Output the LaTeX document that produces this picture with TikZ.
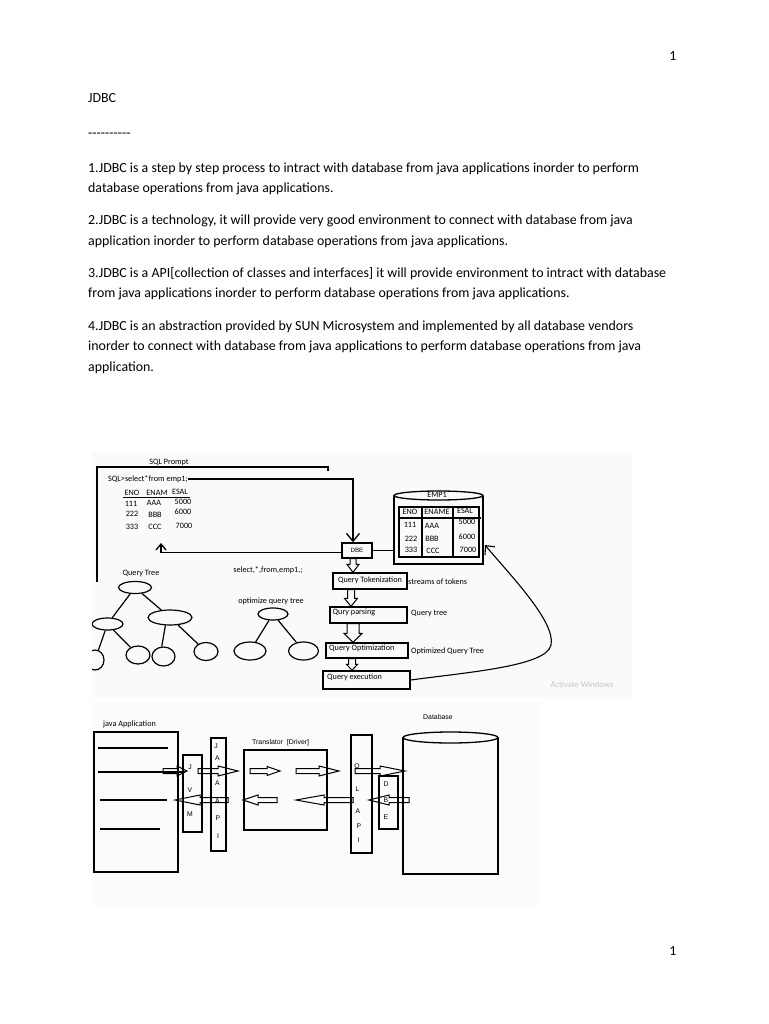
\documentclass[tikz,border=0pt]{standalone}
\usepackage{fontspec}
\setmainfont{Carlito}
\newfontfamily\arialf{Liberation Sans}
\usetikzlibrary{arrows.meta,calc,shapes.geometric}
\newcommand\bodyf{\fontsize{13.9}{16}\selectfont}
\newcommand\smf{\fontsize{8.2}{9.5}\selectfont}
\newcommand\tinyf{\arialf\fontsize{6.8}{7.5}\selectfont}
\newcommand\lblf{\arialf\fontsize{6.9}{8}\selectfont}
% horizontal hollow arrow: tail x, tip x, y, shaft half width, head half width, head length
\newcommand{\HArr}[6]{%
  \pgfmathsetmacro\hbx{ifthenelse(#2>#1,#2-#6,#2+#6)}%
  \draw[harrow] (#1,#3-#4) -- (\hbx,#3-#4) -- (\hbx,#3-#5) -- (#2,#3) -- (\hbx,#3+#5) -- (\hbx,#3+#4) -- (#1,#3+#4) -- cycle;}
% vertical hollow arrow between two named nodes: x, from node, to node, shaft hw, head hw, head length
\newcommand{\VArr}[6]{%
  \draw[harrow] let \p1=(#2.south), \p2=(#3.north) in
    (#1pt-#4pt,\y1) -- (#1pt-#4pt,\y2+#6pt) -- (#1pt-#5pt,\y2+#6pt) -- (#1pt,\y2)
    -- (#1pt+#5pt,\y2+#6pt) -- (#1pt+#4pt,\y2+#6pt) -- (#1pt+#4pt,\y1) -- cycle;}
\begin{document}
\begin{tikzpicture}[x=1pt,y=-1pt,
  every node/.style={inner sep=0pt},
  body/.style={anchor=base west,font=\bodyf},
  sm/.style={font=\smf},
  lt/.style={font=\tinyf},
  lb/.style={font=\lblf},
  ln/.style={line width=1.3pt},
  box/.style={draw,line width=1.3pt,minimum width=#1},
  harrow/.style={draw,line width=1pt,line join=miter},
  ell/.style={draw,ellipse,line width=1.2pt},
  barb/.style={-{Straight Barb[length=8pt,width=13pt]}}]
\useasboundingbox (0,0) rectangle (768,1024);
\fill[white] (0,0) rectangle (768,1024);

% ---------- text ----------
\node[font=\bodyf] (pg1) at (673,56) {1};
\node[body] (title) at (88,103) {JDBC};
\node[body] (dash) at (88,137.5) {{-}{-}{-}{-}{-}{-}{-}{-}{-}{-}};
\node[body] (p1a) at (88,172.5) {1.JDBC is a step by step process to intract with database from java applications inorder to perform};
\node[body] (p1b) at (88,193) {database operations from java applications.};
\node[body] (p2a) at (88,224.5) {2.JDBC is a technology, it will provide very good environment to connect with database from java};
\node[body] (p2b) at (88,245) {application inorder to perform database operations from java applications.};
\node[body] (p3a) at (88,277) {3.JDBC is a API[collection of classes and interfaces] it will provide environment to intract with database};
\node[body] (p3b) at (88,297.5) {from java applications inorder to perform database operations from java applications.};
\node[body] (p4a) at (88,330) {4.JDBC is an abstraction provided by SUN Microsystem and implemented by all database vendors};
\node[body] (p4b) at (88,350.5) {inorder to connect with database from java applications to perform database operations from java};
\node[body] (p4c) at (88,371) {application.};
\node[font=\bodyf] (pg2) at (673,951) {1};

% ---------- diagram 1 ----------
\fill[gray!4] (92,452) rectangle (632,697);
\begin{scope}
\clip (92,452) rectangle (632,697);
\node[sm] (sqlp) at (169,462) {SQL Prompt};
\draw[line width=2pt] (97,582) -- (97,467) -- (328,467) -- (328,471);
\node[sm,anchor=west] (sql) at (108,479) {SQL>select*from emp1;};
% result table
\node[sm] (t1h1) at (132,493) {ENO};
\node[sm] (t1h2) at (157,493) {ENAM};
\node[sm] (t1h3) at (180,492) {ESAL};
\draw[line width=1.2pt] (123,497.5) -- (190,497.5);
\node[sm] (t1a1) at (131,504) {111};
\node[sm] (t1a2) at (154,503) {AAA};
\node[sm] (t1a3) at (183,501.5) {5000};
\node[sm] (t1b1) at (132,514) {222};
\node[sm] (t1b2) at (155,515) {BBB};
\node[sm] (t1b3) at (183,512) {6000};
\node[sm] (t1c1) at (132,526.5) {333};
\node[sm] (t1c2) at (155,527) {CCC};
\node[sm] (t1c3) at (184,525.5) {7000};
% DBE
\node[box=30,minimum height=15] (dbe) at (357,550.5) {};
\node[font=\arialf\fontsize{6.2}{7}\selectfont] (dbet) at (357,550) {DBE};
\coordinate (up) at (161,543);
\draw[ln,barb] (sql.east) -| ($(dbe.north)+(-4,0)$);
\draw[ln,-{Straight Barb[length=6pt,width=10pt]}] ($(dbe.west)+(0,2)$) -| (up);
% EMP1 cylinder
\draw[ln] (394,495.5) -- (394,564) -- (483,564) -- (483,495.5);
\draw[ln] (438.5,495.5) ellipse [x radius=44.5pt, y radius=4.5pt];
\node[sm] (emp1) at (437,495) {EMP1};
\coordinate (emp1w) at (394,549);
\coordinate (emp1e) at (485,545);
\draw[ln] (dbe.east) -- (emp1w |- dbe.east);
\draw[line width=1.2pt] (399,507) rectangle (479,557);
\draw[line width=1.2pt] (399,518) -- (481,518);
\draw[line width=1.2pt] (422,507) -- (422,557);
\draw[line width=1.2pt] (453,507) -- (453,557);
\node[sm] (t2h1) at (410,512) {ENO};
\node[sm] (t2h2) at (437,512) {ENAME};
\node[sm] (t2h3) at (465,511) {ESAL};
\node[sm] (t2a1) at (410,525) {111};
\node[sm] (t2a2) at (432,526) {AAA};
\node[sm] (t2a3) at (467,522) {5000};
\node[sm] (t2b1) at (411,538.5) {222};
\node[sm] (t2b2) at (432,539) {BBB};
\node[sm] (t2b3) at (467,536.5) {6000};
\node[sm] (t2c1) at (411,550) {333};
\node[sm] (t2c2) at (433,551) {CCC};
\node[sm] (t2c3) at (468,549.5) {7000};
% flow boxes
\node[box=74,minimum height=16] (qt) at (370,581) {};
\node[sm] (qtt) at (370,580.5) {Query Tokenization};
\node[sm,anchor=west] (qtl) at (408,582) {streams of tokens};
\node[box=77,minimum height=16] (qp) at (368.5,615) {};
\node[sm,anchor=west] (qpt) at (332.5,612) {Qury parsing};
\node[sm,anchor=west] (qpl) at (411,613.5) {Query tree};
\node[box=82,minimum height=15] (qo) at (367,650.5) {};
\node[sm,anchor=west] (qot) at (329,648.5) {Query Optimization};
\node[sm,anchor=west] (qol) at (411,651) {Optimized Query Tree};
\node[box=87,minimum height=18] (qe) at (366.5,680) {};
\node[sm,anchor=west] (qet) at (327,677) {Query execution};
\VArr{353}{dbe}{qt}{3}{6}{8}
\VArr{351}{qt}{qp}{3.5}{6.5}{8}
\VArr{353}{qp}{qo}{6}{9}{9}
\VArr{352}{qo}{qe}{3.5}{5.5}{6}
\draw[line width=1.1pt,-{Straight Barb[length=7pt,width=13pt]}] (qe.east) .. controls (470,672) and (547,666) .. (551,645) .. controls (556,622) and (510,575) .. (emp1e);
% trees
\node[sm] (qtree) at (141,573) {Query Tree};
\node[sm] (tok) at (268,570) {select,*,from,emp1,;};
\node[sm] (oqt) at (271,601) {optimize query tree};
\node[ell,minimum width=33,minimum height=12] (r) at (135,587.5) {};
\node[ell,minimum width=31,minimum height=12] (lc) at (107.5,624) {};
\node[ell,minimum width=44,minimum height=15] (rc) at (170,617.5) {};
\node[ell,minimum width=18,minimum height=20] (l1) at (95,660) {};
\node[ell,minimum width=24,minimum height=18] (l2) at (138,655) {};
\node[ell,minimum width=23,minimum height=19] (l3) at (163.5,656.5) {};
\node[ell,minimum width=24,minimum height=18] (l4) at (206,651.5) {};
\node[ell,minimum width=30,minimum height=12] (or) at (273,614) {};
\node[ell,minimum width=32,minimum height=18] (ol) at (250,651) {};
\node[ell,minimum width=30,minimum height=18] (orr) at (303.5,651) {};
\draw[line width=1.2pt] (r) -- (lc);
\draw[line width=1.2pt] (r) -- (rc);
\draw[line width=1.2pt] (lc) -- (l1);
\draw[line width=1.2pt] (lc) -- (l2);
\draw[line width=1.2pt] (rc.240) -- (l3.100);
\draw[line width=1.2pt] (rc) -- (l4);
\draw[line width=1.2pt] (or) -- (ol);
\draw[line width=1.2pt] (or) -- (orr);
\node[font=\fontsize{8.6}{10}\selectfont,text=gray!45] (aw) at (582,685) {Activate Windows};
\end{scope}

% ---------- diagram 2 ----------
\fill[gray!3] (92,703) rectangle (540,905);
\node[sm,anchor=west] (japl) at (103,724) {java Application};
\node[box=84,minimum height=140] (japp) at (136,802) {};
\draw[ln] (98,748) -- (168,748);
\draw[ln] (98,772) -- (185,772);
\draw[ln] (100,800) -- (167,800);
\draw[ln] (100,829) -- (160,829);
\node[box=19,minimum height=77] (jvm) at (192.5,793.5) {};
\node[lt] (jv1) at (190,767) {J};
\node[lt] (jv2) at (190,790) {V};
\node[lt] (jv3) at (190,814) {M};
\node[box=15,minimum height=113] (japi) at (218.5,794.5) {};
\node[lt] (ja1) at (216,746) {J};
\node[lt] (ja2) at (217.5,758) {A};
\node[lt] (ja3) at (217.5,783) {A};
\node[lt] (ja4) at (217.5,801) {A};
\node[lt] (ja5) at (218,818) {P};
\node[lt] (ja6) at (218,836) {I};
\node[lb,anchor=west] (trl) at (252,743) {Translator\ \ [Driver]};
\node[box=83,minimum height=80] (trans) at (285.5,790) {};
\node[box=21,minimum height=118] (olapi) at (361.5,794) {};
\node[lt] (ol1) at (357,766) {O};
\node[lt] (ol2) at (357.5,789) {L};
\node[lt] (ol3) at (358,811) {A};
\node[lt] (ol4) at (359,826) {P};
\node[lt] (ol5) at (358.5,840) {I};
\node[box=19,minimum height=53] (dbe2) at (388.5,802.5) {};
\node[lt] (de1) at (386,784) {D};
\node[lt] (de2) at (386,800) {B};
\node[lt] (de3) at (386,817) {E};
\node[lb] (dbl) at (438,717) {Database};
\draw[ln] (403,737.5) -- (403,874) -- (498,874) -- (498,737.5);
\draw[ln] (450.5,737.5) ellipse [x radius=47.5pt, y radius=5.5pt];
% hollow arrows
\HArr{163}{187}{771}{2.5}{5}{10}
\HArr{198}{238}{771}{2.5}{5}{20}
\HArr{250}{280}{771}{2.5}{4.5}{13}
\HArr{296}{339}{771}{2.5}{5}{20}
\HArr{355}{405}{771}{2.5}{5}{25}
\HArr{228}{175}{800}{2.5}{5}{25}
\HArr{277}{243}{800}{2.5}{5}{15}
\HArr{353}{296}{800}{2.5}{5}{28}
\HArr{409}{369}{800}{2.5}{5}{20}
\end{tikzpicture}
\end{document}
